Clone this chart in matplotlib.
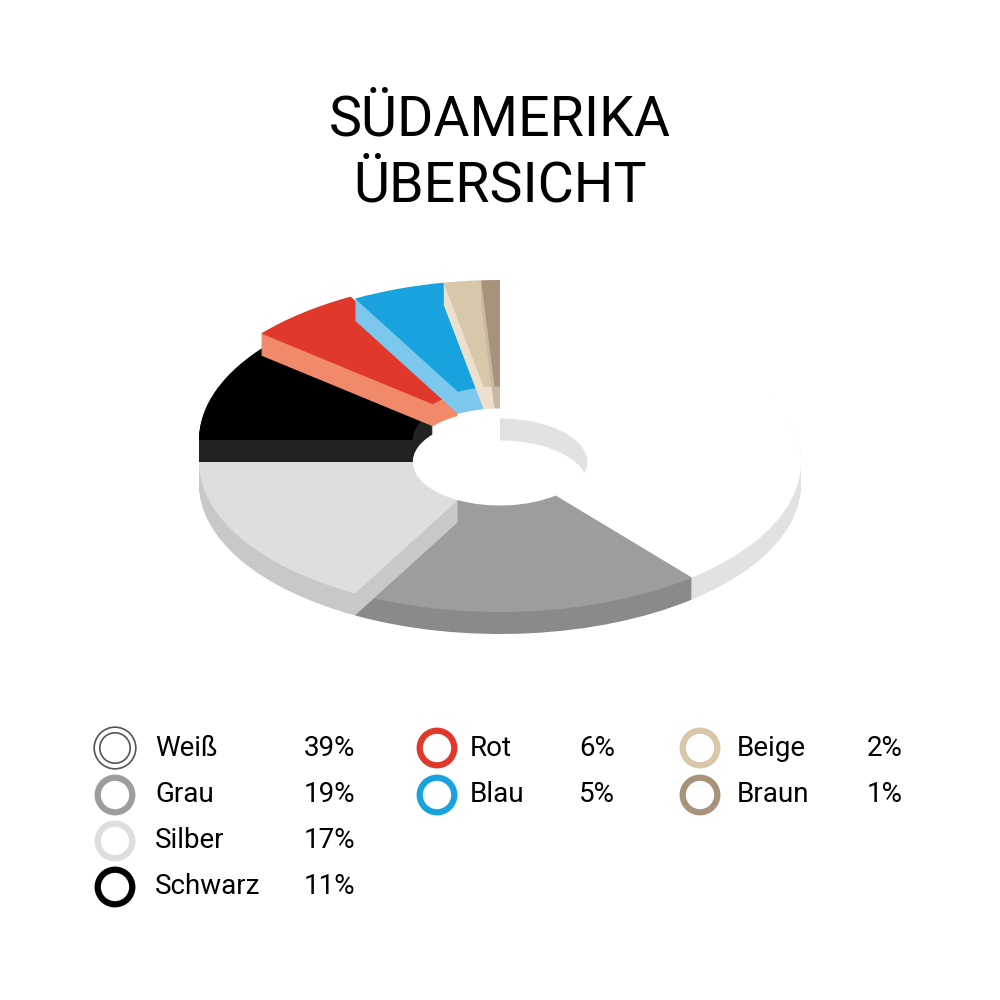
import matplotlib
matplotlib.use("Agg")
import matplotlib.pyplot as plt
from matplotlib.patches import Wedge
from matplotlib.transforms import Affine2D
import numpy as np

labels = ["Weiß", "Grau", "Silber", "Schwarz", "Rot", "Blau", "Beige", "Braun"]
values = [39, 19, 17, 11, 6, 5, 2, 1]
colors = ["#ffffff", "#9d9d9d", "#dedede", "#000000", "#e0392b", "#19a3de", "#d9c7a9", "#a8927a"]
sides = ["#e2e2e2", "#8a8a8a", "#c8c8c8", "#222222", "#f08a6a", "#7cc8ec", "#ece0cc", "#c9b8a3"]
lift = [0, 0, 0, 22, 30, 32, 32, 32]
rscale = [1, 1, 1, 1, 1.03, 1, 1, 1]

fig = plt.figure(figsize=(10, 10), dpi=100)
ax = fig.add_axes([0, 0, 1, 1])
ax.set_xlim(0, 1000); ax.set_ylim(1000, 0); ax.axis("off")

cx, cy, rx, ry, rin, thick = 500, 462, 301, -150, 0.29, 22
start = 90.0
for i, v in enumerate(values):
    span = v * 3.6
    t1, t2 = start - span, start
    start = t1
    for k in range(thick, -1, -1):
        col = colors[i] if k == 0 else sides[i]
        tr = Affine2D().scale(rx, ry).translate(cx, cy - lift[i] + k) + ax.transData
        w = Wedge((0, 0), rscale[i], t1, t2, width=rscale[i] - rin, facecolor=col,
                  edgecolor="none", transform=tr, zorder=2 + (i if i < 3 else 3))
        ax.add_patch(w)

tfont = ["Liberation Sans Narrow", "Roboto", "DejaVu Sans"]
fig.text(0.5, 1 - 120 / 1000, "SÜDAMERIKA", ha="center", va="center", fontsize=40, family=tfont)
fig.text(0.5, 1 - 186 / 1000, "ÜBERSICHT", ha="center", va="center", fontsize=40, family=tfont)

lfont = ["Roboto", "DejaVu Sans"]
cols = [(115, 155, 355), (437, 470, 615), (700, 737, 903)]
rows = [748, 795, 841, 887]
layout = [(0, 0), (0, 1), (0, 2), (0, 3), (1, 0), (1, 1), (2, 0), (2, 1)]
ring = ["#ffffff", "#9d9d9d", "#dedede", "#000000", "#e0392b", "#19a3de", "#d9c7a9", "#a8927a"]
for i, (c, r) in enumerate(layout):
    mx, lx, px = cols[c]
    y = rows[r]
    if i == 0:
        ax.scatter([mx], [y], s=900, facecolor="none", edgecolor="#555555", linewidth=1.2, zorder=10)
        ax.scatter([mx], [y], s=480, facecolor="none", edgecolor="#555555", linewidth=1.2, zorder=10)
    else:
        ax.scatter([mx], [y], s=620, facecolor="none", edgecolor=ring[i], linewidth=4.5, zorder=10)
    ax.text(lx, y, labels[i], ha="left", va="center", fontsize=20, family=lfont)
    ax.text(px, y, f"{values[i]}%", ha="right", va="center", fontsize=20, family=lfont)

fig.savefig("out.png", dpi=100, facecolor="white")
